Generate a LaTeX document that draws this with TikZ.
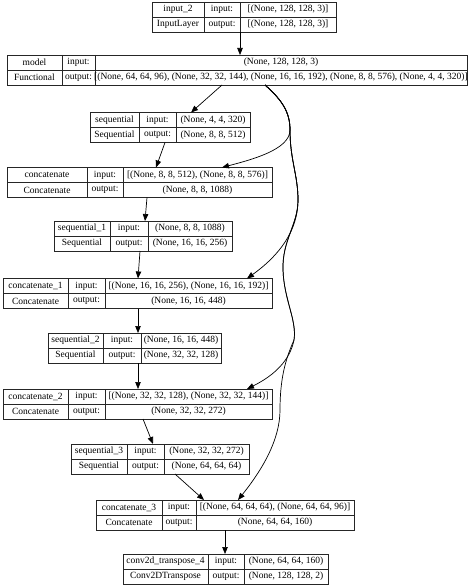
\documentclass[tikz,border=0pt]{standalone}
\usepackage{fontspec}
\setmainfont{Liberation Serif}
\usetikzlibrary{arrows.meta}
\tikzset{
  kframe/.style={draw=black!85, line width=0.8pt, inner sep=0pt, outer sep=0pt},
  kline/.style={draw=black!85, line width=0.8pt},
  cell/.style={inner sep=0pt, font=\fontsize{9.5}{11}\selectfont, anchor=center},
  conn/.style={draw=black, line width=0.7pt, -{Triangle[length=7pt,width=5.5pt]}},
}
\newcommand\kbox[6]{% name x1 x2 x3 x4 ytop
  \node[kframe, minimum width={(#5-#2)*1pt}, minimum height=30pt] (#1) at ({(#2+#5)/2},{#6+15}) {};
  \draw[kline] (#3,#6) -- (#3,#6+30) (#4,#6) -- (#4,#6+30) (#2,#6+15) -- (#5,#6+15);
  \def\ka{#2}\def\kb{#3}\def\kc{#4}\def\kd{#5}\def\kt{#6}\def\kn{#1}%
}
\newcommand\kcells[4]{% layer type in out
  \node[cell] (\kn-a) at ({(\ka+\kb)/2},{\kt+7.5}) {#1};
  \node[cell] (\kn-b) at ({(\ka+\kb)/2},{\kt+22.5}) {#2};
  \node[cell] (\kn-c) at ({(\kb+\kc)/2},{\kt+7.5}) {input:};
  \node[cell] (\kn-d) at ({(\kb+\kc)/2},{\kt+22.5}) {output:};
  \node[cell] (\kn-e) at ({(\kc+\kd)/2},{\kt+7.5}) {#3};
  \node[cell] (\kn-f) at ({(\kc+\kd)/2},{\kt+22.5}) {#4};
}
\begin{document}
\begin{tikzpicture}[x=1pt, y=-1pt]
\useasboundingbox (0,0) rectangle (474,588);

\kbox{in2}{152}{204}{240}{336}{2}
\kcells{input\_2}{InputLayer}{[(None, 128, 128, 3)]}{[(None, 128, 128, 3)]}

\kbox{model}{7}{62}{95}{467}{55}
\kcells{model}{Functional}{(None, 128, 128, 3)}{[(None, 64, 64, 96), (None, 32, 32, 144), (None, 16, 16, 192), (None, 8, 8, 576), (None, 4, 4, 320)]}

\kbox{seq0}{90}{139}{176}{250}{112.5}
\kcells{sequential}{Sequential}{(None, 4, 4, 320)}{(None, 8, 8, 512)}

\kbox{cat0}{7}{87}{123}{272}{167.5}
\kcells{concatenate}{Concatenate}{[(None, 8, 8, 512), (None, 8, 8, 576)]}{(None, 8, 8, 1088)}

\kbox{seq1}{54}{110}{148}{232}{221}
\kcells{sequential\_1}{Sequential}{(None, 8, 8, 1088)}{(None, 16, 16, 256)}

\kbox{cat1}{3}{68}{105}{272}{278.5}
\kcells{concatenate\_1}{Concatenate}{[(None, 16, 16, 256), (None, 16, 16, 192)]}{(None, 16, 16, 448)}

\kbox{seq2}{48}{103}{141}{221}{333}
\kcells{sequential\_2}{Sequential}{(None, 16, 16, 448)}{(None, 32, 32, 128)}

\kbox{cat2}{3}{68}{105}{272}{389}
\kcells{concatenate\_2}{Concatenate}{[(None, 32, 32, 128), (None, 32, 32, 144)]}{(None, 32, 32, 272)}

\kbox{seq3}{71}{127}{164}{249}{444}
\kcells{sequential\_3}{Sequential}{(None, 32, 32, 272)}{(None, 64, 64, 64)}

\kbox{cat3}{96}{162}{196}{354}{500}
\kcells{concatenate\_3}{Concatenate}{[(None, 64, 64, 64), (None, 64, 64, 96)]}{(None, 64, 64, 160)}

\kbox{conv}{123}{208}{244}{328}{554}
\kcells{conv2d\_transpose\_4}{Conv2DTranspose}{(None, 64, 64, 160)}{(None, 128, 128, 2)}

% straight connectors
\draw[conn] (240,0 |- in2.south) -- (240,0 |- model.north);
\draw[conn] (222,0 |- model.south) -- (191,0 |- seq0.north);
\draw[conn] (165,0 |- seq0.south) -- (156,0 |- cat0.north);
\draw[conn] (147,0 |- cat0.south) -- (145,0 |- seq1.north);
\draw[conn] (140,0 |- seq1.south) -- (138,0 |- cat1.north);
\draw[conn] (138,0 |- cat1.south) -- (138,0 |- seq2.north);
\draw[conn] (138,0 |- seq2.south) -- (138,0 |- cat2.north);
\draw[conn] (143,0 |- cat2.south) -- (153,0 |- seq3.north);
\draw[conn] (175,0 |- seq3.south) -- (204,0 |- cat3.north);
\draw[conn] (225,0 |- cat3.south) -- (225,0 |- conv.north);

% skip connectors from model
\draw[conn] (265,0 |- model.south) .. controls (282,100) and (290,112) .. (290,130)
  .. controls (290,150) and (250,160) .. (222,0 |- cat0.north);
\draw[conn] (265,0 |- model.south) .. controls (282,100) and (290,112) .. (290,130)
  .. controls (290,160) and (298,175) .. (298,200)
  .. controls (298,230) and (280,255) .. (247,0 |- cat1.north);
\draw[conn] (265,0 |- model.south) .. controls (282,100) and (290,112) .. (290,130)
  .. controls (290,160) and (298,175) .. (298,200)
  .. controls (298,225) and (282,240) .. (283,270)
  .. controls (284,300) and (297,320) .. (294,340)
  .. controls (290,360) and (275,375) .. (247,0 |- cat2.north);
\draw[conn] (265,0 |- model.south) .. controls (282,100) and (290,112) .. (290,130)
  .. controls (290,160) and (298,175) .. (298,200)
  .. controls (298,225) and (282,240) .. (283,270)
  .. controls (284,300) and (297,320) .. (294,340)
  .. controls (285,360) and (280,380) .. (280,410)
  .. controls (280,440) and (262,470) .. (238,0 |- cat3.north);
\end{tikzpicture}
\end{document}
